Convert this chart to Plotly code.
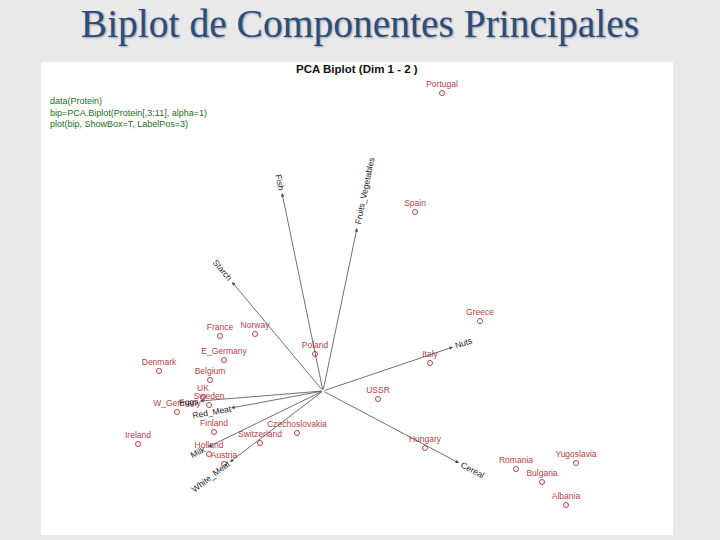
### PCA BIPLOT - PROTEIN DATA (SLIDE REPRODUCTION)

import numpy as np
import plotly.graph_objects as go

# Country scores on Dim 1 / Dim 2
countries = ["Portugal", "Spain", "Greece", "Italy", "USSR", "Poland", "Norway", "France",
             "E_Germany", "Denmark", "Belgium", "UK", "Sweden", "W_Germany", "Finland",
             "Ireland", "Czechoslovakia", "Switzerland", "Holland", "Austria", "Hungary",
             "Romania", "Yugoslavia", "Bulgaria", "Albania"]
dim1 = [2.38, 1.84, 3.14, 2.14, 1.10, -0.16, -1.36, -2.06,
        -1.98, -3.28, -2.26, -2.40, -2.28, -2.92, -2.18,
        -3.70, -0.52, -1.26, -2.28, -1.98, 2.04,
        3.86, 5.06, 4.38, 4.86]
dim2 = [5.96, 3.58, 1.40, 0.56, -0.16, 0.74, 1.14, 1.10,
        0.62, 0.40, 0.22, -0.12, -0.28, -0.42, -0.82,
        -1.06, -0.84, -1.04, -1.26, -1.46, -1.14,
        -1.56, -1.44, -1.82, -2.28]

# Variable loadings (arrow tips)
variables = ["Red_Meat", "White_Meat", "Eggs", "Milk", "Fish", "Cereal",
             "Starch", "Nuts", "Fruits_Vegetables"]
load1 = [-1.84, -1.86, -2.46, -2.30, -0.82, 2.72, -1.82, 2.60, 0.68]
load2 = [-0.34, -1.42, -0.20, -1.12, 3.96, -1.44, 2.18, 0.88, 3.26]

code_lines = ["data(Protein)",
              "bip=PCA.Biplot(Protein[,3:11], alpha=1)",
              "plot(bip, ShowBox=T, LabelPos=3)"]

point_color = "#b3404a"
arrow_color = "#4d4d4d"
lab_size = 8.5

fig = go.Figure()

fig.add_trace(go.Scatter(
    x=dim1, y=dim2,
    mode="markers+text",
    text=countries,
    textposition="top center",
    textfont=dict(family="Arial", size=lab_size, color=point_color),
    marker=dict(symbol="circle-open", size=5, color=point_color, line=dict(width=1)),
    hoverinfo="text",
    showlegend=False
))

# Arrows + rotated labels
for name, vx, vy in zip(variables, load1, load2):
    fig.add_annotation(
        x=vx, y=vy, ax=0, ay=0, xref="x", yref="y", axref="x", ayref="y",
        text="", showarrow=True, arrowhead=2, arrowsize=0.9, arrowwidth=0.8,
        arrowcolor=arrow_color
    )
    ang = np.degrees(np.arctan2(-vy, vx))
    if ang > 90:
        ang -= 180
    elif ang < -90:
        ang += 180
    n = np.hypot(vx, vy)
    r = len(name) * lab_size * 0.24 + 3
    fig.add_annotation(
        x=vx, y=vy, xref="x", yref="y", text=name, showarrow=False,
        textangle=ang, xshift=vx / n * r, yshift=vy / n * r,
        font=dict(family="Arial", size=lab_size, color="#222222")
    )

fig.add_annotation(
    x=0.5, y=0.985, xref="paper", yref="paper", yanchor="middle",
    text="<b>PCA Biplot (Dim 1 - 2 )</b>",
    showarrow=False, font=dict(family="Arial", size=11.5, color="#111111")
)
fig.add_annotation(
    x=0.011, y=0.932, xref="paper", yref="paper", xanchor="left", yanchor="top",
    align="left", text="<br>".join(code_lines), showarrow=False,
    font=dict(family="Arial", size=9, color="#1b6e1b")
)

fig.update_layout(
    width=720, height=540,
    title=dict(text="Biplot de Componentes Principales", x=0.5, y=0.958,
               xanchor="center", yanchor="middle",
               font=dict(family="Liberation Serif", size=39.5, color="#2a4d80",
                         shadow="1px 1px 2px #9a9a9a")),
    margin=dict(l=41, r=47, t=62, b=5),
    paper_bgcolor="#e9e9e9",
    plot_bgcolor="white",
    xaxis=dict(range=[-5.64, 7.0], visible=False, fixedrange=True),
    yaxis=dict(range=[-2.88, 6.58], visible=False, fixedrange=True),
)

# page margin off so the 720x540 figure fills the window
fig.write_html("out.html", config={"displayModeBar": False},
               post_script="document.body.style.margin='0px';")
